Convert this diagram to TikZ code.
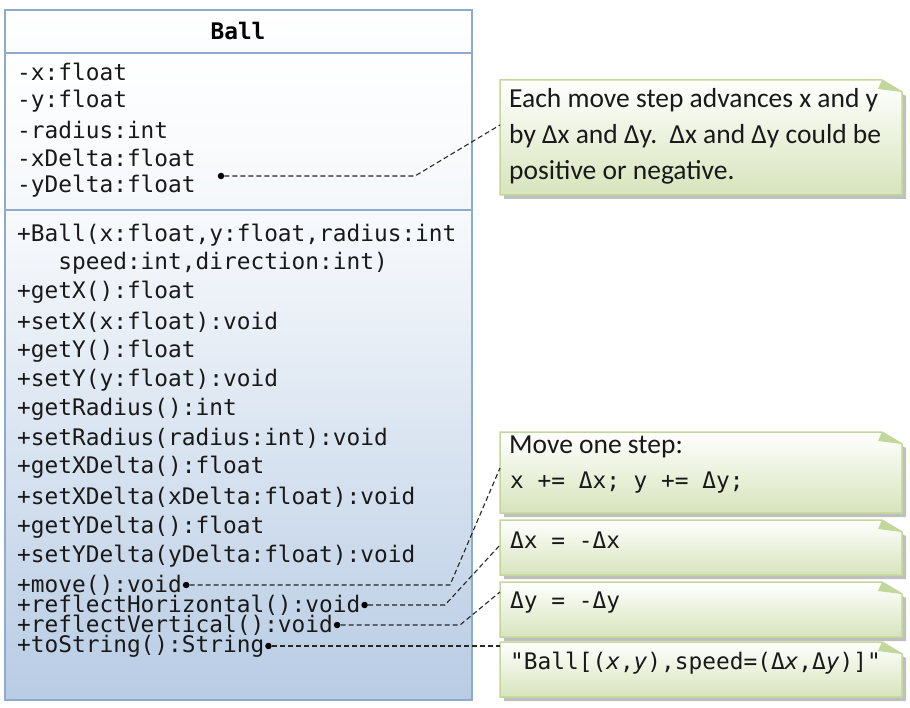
\documentclass[tikz,border=0pt]{standalone}
\usepackage{fontspec}
\setmonofont{DejaVu Sans Mono}
\newfontfamily\notefont{Carlito}
\usetikzlibrary{calc}
\definecolor{bord}{HTML}{8EAACC}
\definecolor{blueb}{HTML}{B8CCE4}
\definecolor{gbord}{HTML}{C3D69B}
\definecolor{gfill}{HTML}{D7E4BC}
\tikzset{
 mono/.style={font=\ttfamily\fontsize{22.8}{26}\selectfont, anchor=west, inner sep=0pt, text=black!90},
 ntxt/.style={font=\notefont\fontsize{27.5}{36}\selectfont, anchor=north west, inner sep=0pt, text=black!90, align=left},
 ctxt/.style={font=\ttfamily\fontsize{22.8}{36}\selectfont, anchor=north west, inner sep=0pt, text=black!90, align=left},
 conn/.style={line width=1.1pt, dash pattern=on 5pt off 3pt, black!85},
 dotc/.style={circle, fill=black, inner sep=0pt, minimum size=6.5pt},
}
\newcommand{\mynote}[5]{% name x1 y1 x2 y2
 \fill[black!25] (#2+4,#3+4) -- (#4-18,#3+4) -- (#4+4,#3+16) -- (#4+4,#5+4) -- (#2+4,#5+4) -- cycle;
 \shade[top color=white, bottom color=gfill, draw=gbord, line width=1.5pt]
   (#2,#3) -- (#4-20,#3) -- (#4,#3+12) -- (#4,#5) -- (#2,#5) -- cycle;
 \fill[gbord] (#4-20,#3) -- (#4,#3+12) -- (#4-24,#3+9) -- cycle;
}
\begin{document}
\begin{tikzpicture}[x=1pt,y=-1pt]
\useasboundingbox (0,0) rectangle (910,708);
% class box
\shade[top color=white, bottom color=white!95!blueb] (5,10) rectangle (472,53);
\shade[top color=white, bottom color=white!85!blueb] (5,53) rectangle (472,210);
\shade[top color=white!90!blueb, bottom color=blueb] (5,210) rectangle (472,700);
\draw[bord, line width=1.5pt] (5,10) rectangle (472,700);
\draw[bord, line width=1.5pt] (5,53) -- (472,53) (5,210) -- (472,210);
\node[font=\ttfamily\bfseries\fontsize{22.8}{26}\selectfont, inner sep=0pt] (title) at (238,31) {Ball};
\node[mono] (a1) at (17,72) {-x:float};
\node[mono] (a2) at (17,101) {-y:float};
\node[mono] (a3) at (17,130) {-radius:int};
\node[mono] (a4) at (17,158) {-xDelta:float};
\node[mono] (a5) at (17,186) {-yDelta:float};
\node[mono] (m1) at (17,235) {+Ball(x:float,y:float,radius:int};
\node[mono] (m2) at (17,263) {\ \ \ speed:int,direction:int)};
\node[mono] (m3) at (17,292) {+getX():float};
\node[mono] (m4) at (17,322) {+setX(x:float):void};
\node[mono] (m5) at (17,351) {+getY():float};
\node[mono] (m6) at (17,380) {+setY(y:float):void};
\node[mono] (m7) at (17,409) {+getRadius():int};
\node[mono] (m8) at (17,438) {+setRadius(radius:int):void};
\node[mono] (m9) at (17,467) {+getXDelta():float};
\node[mono] (m10) at (17,497) {+setXDelta(xDelta:float):void};
\node[mono] (m11) at (17,527) {+getYDelta():float};
\node[mono] (m12) at (17,556) {+setYDelta(yDelta:float):void};
\node[mono] (m13) at (17,585) {+move():void};
\node[mono] (m14) at (17,605) {+reflectHorizontal():void};
\node[mono] (m16) at (17,625) {+reflectVertical():void};
\node[mono] (m17) at (17,646) {+toString():String};
% notes
\mynote{n1}{500}{80}{902}{195}
\mynote{n2}{500}{432}{902}{513}
\mynote{n3}{500}{520}{902}{575}
\mynote{n4}{500}{582}{902}{637}
\mynote{n5}{500}{642}{902}{697}
\node[ntxt] (t1) at (509,88) {Each move step advances x and y\\by Δx and Δy.\ \ Δx and Δy could be\\positive or negative.};
\node[ntxt] (t2) at (509,436) {Move one step:};
\node[ctxt] (t2b) at (510,472) {x += Δx; y += Δy;};
\node[ctxt] (t3) at (510,532) {Δx = -Δx};
\node[ctxt] (t4) at (510,592) {Δy = -Δy};
\node[ctxt] (t5) at (510,652) {"Ball[(\textit{x},\textit{y}),speed=(Δ\textit{x},Δ\textit{y})]"};
% connectors
\node[dotc] (d1) at (221,176) {};
\node[dotc] (d2) at ($(m13.east)+(4,0)$) {};
\node[dotc] (d3) at ($(m14.east)+(4,0)$) {};
\node[dotc] (d4) at ($(m16.east)+(4,0)$) {};
\node[dotc] (d5) at ($(m17.east)+(4,0)$) {};
\coordinate (c1) at (500,125);
\coordinate (c2) at (500,468);
\coordinate (c3) at (500,545);
\coordinate (c4) at (500,592);
\coordinate (c5) at (500,646);
\draw[conn] (d1) -- (415,176) -- (c1);
\draw[conn] (d2) -- (450,585) -- (c2);
\draw[conn] (d3) -- (445,605) -- (c3);
\draw[conn] (d4) -- (460,625) -- (c4);
\draw[conn] (d5) -- (c5);
\end{tikzpicture}
\end{document}
